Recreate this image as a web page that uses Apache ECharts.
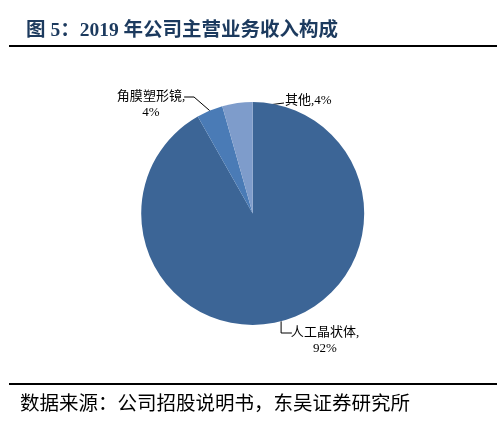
<!DOCTYPE html>
<html>
<head>
<meta charset="utf-8">
<script src="https://cdn.jsdelivr.net/npm/echarts@6/dist/echarts.min.js"></script>
<style>
html,body{margin:0;padding:0;background:#fff;}
#c{width:502px;height:426px;}
</style>
</head>
<body>
<div id="c"></div>
<script>
const categories = ['人工晶状体', '角膜塑形镜', '其他'];
const values = [91.8, 3.8, 4.4];
const colors = ['#3C6596', '#4A7BB6', '#7E9CCB'];
const titleText = '图 5：2019 年公司主营业务收入构成';
const sourceText = '数据来源：公司招股说明书，东吴证券研究所';

const chart = echarts.init(document.getElementById('c'), null, {renderer: 'canvas'});
const CX = 252.7, CY = 213.5, R = 111.5;
const labelFont = '"Liberation Serif", "Noto Sans CJK SC", serif';

const option = {
  backgroundColor: '#fff',
  animation: false,
  title: {
    text: titleText,
    left: 21,
    top: 16,
    textStyle: {
      fontFamily: '"Liberation Serif", "Noto Sans CJK SC", serif',
      fontWeight: 'bold',
      fontSize: 19.5,
      color: '#1C3A5E'
    }
  },
  graphic: [
    {type: 'line', shape: {x1: 9, y1: 46, x2: 497, y2: 46}, style: {stroke: '#000', lineWidth: 2}},
    {type: 'line', shape: {x1: 9, y1: 384, x2: 497, y2: 384}, style: {stroke: '#000', lineWidth: 2}},
    {type: 'text', left: 20, top: 393, style: {
      text: sourceText, fill: '#000', fontSize: 19.5,
      fontFamily: '"Noto Sans CJK SC", sans-serif'
    }}
  ],
  series: [{
    type: 'pie',
    center: [CX, CY],
    radius: R,
    startAngle: 90,
    clockwise: true,
    avoidLabelOverlap: false,
    data: categories.map((n, i) => ({name: n, value: values[i], itemStyle: {color: colors[i]}})),
    itemStyle: {borderColor: '#fff', borderWidth: 0},
    label: {
      show: true,
      position: 'outside',
      formatter: p => p.name + ',' + (p.dataIndex === 2 ? '' : '\n') + Math.round(p.percent) + '%',
      fontSize: 13,
      lineHeight: 16,
      color: '#000',
      fontFamily: labelFont,
      align: 'center'
    },
    labelLine: {show: true, lineStyle: {color: '#000', width: 1}, length: 10, length2: 10},
    labelLayout: function (params) {
      const i = params.dataIndex;
      const p0 = params.labelLinePoints ? params.labelLinePoints[0] : [CX, CY - R];
      const w = params.labelRect.width;
      if (i === 0) {
        const x = 325, y = 341;
        return {x: x, y: y, align: 'center', verticalAlign: 'middle',
          labelLinePoints: [p0, [p0[0], 333], [x - w / 2 + 1, 333]]};
      } else if (i === 1) {
        const x = 151, y = 105;
        return {x: x, y: y, align: 'center', verticalAlign: 'middle',
          labelLinePoints: [p0, [194, 97], [x + w / 2 - 1, 97]]};
      } else {
        return {x: 285, y: 101, align: 'left', verticalAlign: 'middle',
          labelLinePoints: [[CX + 0.5, CY - R + 6], [268, 105], [284, 103]]};
      }
    }
  }]
};
chart.setOption(option);
</script>
</body>
</html>
